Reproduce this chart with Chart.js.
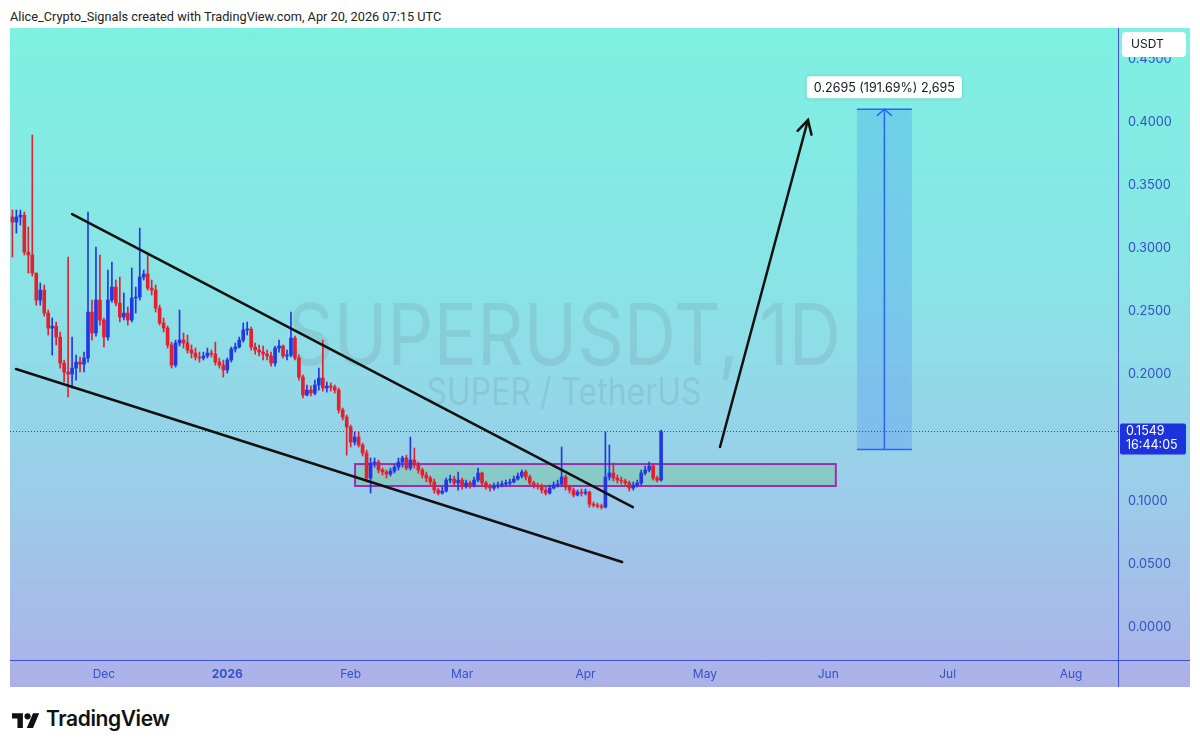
<!DOCTYPE html>
<html>
<head>
<meta charset="utf-8">
<title>SUPERUSDT 1D</title>
<script src="https://cdn.jsdelivr.net/npm/chart.js@4.4.1/dist/chart.umd.min.js"></script>
<style>
  html, body { margin: 0; padding: 0; background: #fff; }
  body { width: 1200px; height: 747px; position: relative; overflow: hidden; font-family: Inter, 'Noto Sans', sans-serif; }
  #header { position: absolute; left: 10px; top: 9px; font: 12.75px Roboto, sans-serif; color: #222; line-height: 16px; }
  #panel {
    position: absolute; left: 10px; top: 28px; width: 1180px; height: 659px;
    background: linear-gradient(180deg, rgb(126,241,226) 0%, rgb(138,227,230) 40%, rgb(155,205,233) 70%, rgb(172,177,232) 100%);
  }
  #footer { position: absolute; left: 12px; top: 706px; display: flex; align-items: center; }
  #footer span { font: 600 21px Inter, sans-serif; color: #111; margin-left: 6px; letter-spacing: -0.4px; }
</style>
</head>
<body>
<div id="header">Alice_Crypto_Signals created with TradingView.com, Apr 20, 2026 07:15 UTC</div>
<div id="panel"><canvas id="chart"></canvas></div>
<div id="footer">
  <svg width="28" height="18" viewBox="0 0 36 23">
    <path d="M14 23H7V11H0V4h14z" fill="#111"/>
    <circle cx="20" cy="8" r="4" fill="#111"/>
    <path d="M27 23h-8l8-19h8z" fill="#111"/>
  </svg>
  <span>TradingView</span>
</div>
<script>
// Days counted from Dec 1, 2025 (day 0); first candle is Nov 8
const firstDay = -23;

const opens = [
  0.3248, 0.3208, 0.3248, 0.3263, 0.2970, 0.2947, 0.2804, 0.2590, 0.2669, 0.2487,
  0.2368, 0.2384, 0.2297, 0.2091, 0.2020, 0.2004, 0.2051, 0.2099, 0.2083, 0.2131,
  0.2495, 0.2329, 0.2590, 0.2432, 0.2297, 0.2590, 0.2693, 0.2566, 0.2455, 0.2487,
  0.2432, 0.2606, 0.2614, 0.2772, 0.2796, 0.2685, 0.2669, 0.2527, 0.2408, 0.2368,
  0.2234, 0.2075, 0.2250, 0.2273, 0.2250, 0.2194, 0.2170, 0.2139, 0.2131, 0.2147,
  0.2170, 0.2162, 0.2099, 0.2075, 0.2036, 0.2115, 0.2202, 0.2218, 0.2273, 0.2353,
  0.2360, 0.2218, 0.2194, 0.2178, 0.2162, 0.2147, 0.2091, 0.2210, 0.2226, 0.2147,
  0.2154, 0.2289, 0.2131, 0.1980, 0.1838, 0.1877, 0.1853, 0.1917, 0.1972, 0.1893,
  0.1909, 0.1901, 0.1877, 0.1719, 0.1663, 0.1584, 0.1465, 0.1505, 0.1442, 0.1378,
  0.1180, 0.1299, 0.1307, 0.1244, 0.1228, 0.1212, 0.1236, 0.1267, 0.1307, 0.1339,
  0.1259, 0.1323, 0.1283, 0.1244, 0.1204, 0.1180, 0.1149, 0.1085, 0.1061, 0.1077,
  0.1164, 0.1172, 0.1141, 0.1164, 0.1117, 0.1141, 0.1125, 0.1164, 0.1220, 0.1141,
  0.1109, 0.1101, 0.1117, 0.1125, 0.1133, 0.1141, 0.1149, 0.1172, 0.1196, 0.1228,
  0.1188, 0.1141, 0.1125, 0.1117, 0.1085, 0.1061, 0.1101, 0.1125, 0.1133, 0.1188,
  0.1109, 0.1085, 0.1046, 0.1069, 0.1061, 0.1069, 0.0974, 0.0966, 0.0958, 0.0950,
  0.1188, 0.1220, 0.1180, 0.1164, 0.1156, 0.1141, 0.1101, 0.1125, 0.1141, 0.1220,
  0.1244, 0.1275, 0.1180, 0.1164
];

const closes = [
  0.3208, 0.3248, 0.3263, 0.2970, 0.2947, 0.2804, 0.2590, 0.2669, 0.2487, 0.2368,
  0.2384, 0.2297, 0.2091, 0.2020, 0.2004, 0.2051, 0.2099, 0.2083, 0.2131, 0.2495,
  0.2329, 0.2590, 0.2432, 0.2297, 0.2590, 0.2693, 0.2566, 0.2455, 0.2487, 0.2432,
  0.2606, 0.2614, 0.2772, 0.2796, 0.2685, 0.2669, 0.2527, 0.2408, 0.2368, 0.2234,
  0.2075, 0.2250, 0.2273, 0.2250, 0.2194, 0.2170, 0.2139, 0.2131, 0.2147, 0.2170,
  0.2162, 0.2099, 0.2075, 0.2036, 0.2115, 0.2202, 0.2218, 0.2273, 0.2353, 0.2360,
  0.2218, 0.2194, 0.2178, 0.2162, 0.2147, 0.2091, 0.2210, 0.2226, 0.2147, 0.2154,
  0.2289, 0.2131, 0.1980, 0.1838, 0.1877, 0.1853, 0.1917, 0.1972, 0.1893, 0.1909,
  0.1901, 0.1877, 0.1719, 0.1663, 0.1584, 0.1465, 0.1505, 0.1442, 0.1378, 0.1180,
  0.1299, 0.1307, 0.1244, 0.1228, 0.1212, 0.1236, 0.1267, 0.1307, 0.1339, 0.1259,
  0.1323, 0.1283, 0.1244, 0.1204, 0.1180, 0.1149, 0.1085, 0.1061, 0.1077, 0.1164,
  0.1172, 0.1141, 0.1164, 0.1117, 0.1141, 0.1125, 0.1164, 0.1220, 0.1141, 0.1109,
  0.1101, 0.1117, 0.1125, 0.1133, 0.1141, 0.1149, 0.1172, 0.1196, 0.1228, 0.1188,
  0.1141, 0.1125, 0.1117, 0.1085, 0.1061, 0.1101, 0.1125, 0.1133, 0.1188, 0.1109,
  0.1085, 0.1046, 0.1069, 0.1061, 0.1069, 0.0974, 0.0966, 0.0958, 0.0950, 0.1188,
  0.1220, 0.1180, 0.1164, 0.1156, 0.1141, 0.1101, 0.1125, 0.1141, 0.1220, 0.1244,
  0.1275, 0.1180, 0.1164, 0.1549
];

const highs = [
  0.3303, 0.3303, 0.3303, 0.3287, 0.3168, 0.3897, 0.2804, 0.2725, 0.2709, 0.2511,
  0.2448, 0.2416, 0.2337, 0.2115, 0.2931, 0.2297, 0.2154, 0.2139, 0.2178, 0.3287,
  0.2590, 0.3010, 0.2947, 0.2448, 0.2828, 0.2891, 0.2749, 0.2772, 0.2646, 0.2535,
  0.2844, 0.2693, 0.3160, 0.2828, 0.2947, 0.2749, 0.2709, 0.2550, 0.2448, 0.2384,
  0.2257, 0.2273, 0.2511, 0.2329, 0.2313, 0.2234, 0.2210, 0.2178, 0.2178, 0.2210,
  0.2194, 0.2257, 0.2131, 0.2115, 0.2131, 0.2218, 0.2250, 0.2297, 0.2408, 0.2416,
  0.2376, 0.2250, 0.2234, 0.2226, 0.2194, 0.2178, 0.2226, 0.2273, 0.2234, 0.2194,
  0.2495, 0.2305, 0.2154, 0.1996, 0.1917, 0.1909, 0.1956, 0.2051, 0.2273, 0.1941,
  0.1933, 0.1917, 0.1893, 0.1735, 0.1679, 0.1600, 0.1545, 0.1545, 0.1457, 0.1402,
  0.1339, 0.1339, 0.1323, 0.1259, 0.1244, 0.1259, 0.1283, 0.1339, 0.1354, 0.1362,
  0.1505, 0.1418, 0.1307, 0.1259, 0.1228, 0.1196, 0.1172, 0.1101, 0.1109, 0.1180,
  0.1204, 0.1196, 0.1228, 0.1180, 0.1164, 0.1156, 0.1188, 0.1259, 0.1228, 0.1156,
  0.1133, 0.1141, 0.1149, 0.1156, 0.1164, 0.1172, 0.1196, 0.1220, 0.1244, 0.1244,
  0.1204, 0.1156, 0.1141, 0.1133, 0.1109, 0.1125, 0.1149, 0.1164, 0.1426, 0.1204,
  0.1125, 0.1101, 0.1085, 0.1093, 0.1093, 0.1077, 0.0990, 0.0982, 0.0974, 0.1545,
  0.1442, 0.1299, 0.1204, 0.1188, 0.1172, 0.1156, 0.1149, 0.1164, 0.1244, 0.1275,
  0.1307, 0.1291, 0.1196, 0.1560
];

const lows = [
  0.2931, 0.3121, 0.3184, 0.2947, 0.2804, 0.2780, 0.2550, 0.2550, 0.2463, 0.2313,
  0.2154, 0.2234, 0.2051, 0.1941, 0.1822, 0.1893, 0.1956, 0.2020, 0.2020, 0.2099,
  0.2273, 0.2305, 0.2392, 0.2218, 0.2273, 0.2574, 0.2543, 0.2416, 0.2432, 0.2392,
  0.2416, 0.2487, 0.2590, 0.2749, 0.2669, 0.2630, 0.2495, 0.2392, 0.2337, 0.2210,
  0.2051, 0.2059, 0.2226, 0.2210, 0.2170, 0.2131, 0.2115, 0.2099, 0.2115, 0.2131,
  0.2139, 0.2075, 0.2051, 0.1980, 0.2012, 0.2099, 0.2178, 0.2210, 0.2257, 0.2313,
  0.2194, 0.2162, 0.2147, 0.2115, 0.2115, 0.2067, 0.2067, 0.2178, 0.2131, 0.2115,
  0.2139, 0.2115, 0.1956, 0.1814, 0.1830, 0.1830, 0.1838, 0.1877, 0.1869, 0.1861,
  0.1869, 0.1853, 0.1695, 0.1640, 0.1362, 0.1426, 0.1442, 0.1426, 0.1354, 0.1149,
  0.1061, 0.1267, 0.1220, 0.1204, 0.1180, 0.1196, 0.1220, 0.1244, 0.1267, 0.1244,
  0.1244, 0.1259, 0.1220, 0.1180, 0.1149, 0.1125, 0.1061, 0.1046, 0.1053, 0.1069,
  0.1141, 0.1117, 0.1085, 0.1093, 0.1101, 0.1101, 0.1109, 0.1149, 0.1125, 0.1093,
  0.1077, 0.1085, 0.1101, 0.1109, 0.1117, 0.1125, 0.1141, 0.1164, 0.1180, 0.1164,
  0.1125, 0.1101, 0.1093, 0.1061, 0.1046, 0.1053, 0.1093, 0.1109, 0.1117, 0.1085,
  0.1061, 0.1030, 0.1038, 0.1038, 0.1046, 0.0950, 0.0950, 0.0943, 0.0935, 0.0943,
  0.1164, 0.1156, 0.1141, 0.1133, 0.1117, 0.1077, 0.1085, 0.1109, 0.1125, 0.1204,
  0.1228, 0.1164, 0.1149, 0.1156
];

// Axis ticks
const monthTicks = [0, 31, 62, 90, 121, 151, 182, 212, 243];
const monthLabels = ['Dec', '2026', 'Feb', 'Mar', 'Apr', 'May', 'Jun', 'Jul', 'Aug'];
const priceTicks = [0, 0.05, 0.10, 0.15, 0.20, 0.25, 0.30, 0.35, 0.40, 0.45];

// Drawings (day, price)
const upperLine = [{ x: -8.0, y: 0.3271 }, { x: 132.9, y: 0.0950 }];
const lowerLine = [{ x: -22.1, y: 0.2044 }, { x: 130.2, y: 0.0515 }];
const arrowLine = [{ x: 154.8, y: 0.1426 }, { x: 176.9, y: 0.4016 }];
const zoneDays = [63.1, 183.9];
const zonePrices = [0.1117, 0.1291];
const measureDays = [189.2, 203.0];
const measurePrices = [0.1406, 0.4101];
const measureText = '0.2695 (191.69%) 2,695';
const lastPrice = 0.1549;
const countdown = '16:44:05';
const watermark = ['SUPERUSDT, 1D', 'SUPER / TetherUS'];

const upColor = '#2437e4';
const downColor = '#e3202e';
const axisBlue = '#3d4fd2';
const tickColor = '#3550c8';

const days = closes.map((c, i) => firstDay + i);
const candleColors = closes.map((c, i) => c >= opens[i] ? upColor : downColor);

function roundRect(ctx, x, y, w, h, r) {
  ctx.beginPath();
  ctx.moveTo(x + r, y);
  ctx.arcTo(x + w, y, x + w, y + h, r);
  ctx.arcTo(x + w, y + h, x, y + h, r);
  ctx.arcTo(x, y + h, x, y, r);
  ctx.arcTo(x, y, x + w, y, r);
  ctx.closePath();
}

function arrowHead(ctx, fromX, fromY, toX, toY, len, spread) {
  const ang = Math.atan2(toY - fromY, toX - fromX);
  ctx.beginPath();
  ctx.moveTo(toX - len * Math.cos(ang - spread), toY - len * Math.sin(ang - spread));
  ctx.lineTo(toX, toY);
  ctx.lineTo(toX - len * Math.cos(ang + spread), toY - len * Math.sin(ang + spread));
  ctx.stroke();
}

// draw a text line squeezed to a given width (the watermark font is narrower than Inter)
function squeezedText(ctx, text, cx, baseline, font, width) {
  ctx.save();
  ctx.font = font;
  const w = ctx.measureText(text).width;
  ctx.translate(cx, baseline);
  ctx.scale(width / w, 1);
  ctx.textAlign = 'center';
  ctx.textBaseline = 'alphabetic';
  ctx.fillText(text, 0, 0);
  ctx.restore();
}

const drawings = {
  id: 'drawings',
  beforeDatasetsDraw(chart) {
    const { ctx, chartArea: a, scales: { x, y } } = chart;
    ctx.save();
    ctx.beginPath();
    ctx.rect(a.left, a.top, a.right - a.left, a.bottom - a.top);
    ctx.clip();

    // watermark
    const cx = (a.left + a.right) / 2;
    ctx.fillStyle = 'rgba(95, 108, 122, 0.15)';
    squeezedText(ctx, watermark[0], cx, a.top + 337, '400 85px Inter, sans-serif', 554);
    squeezedText(ctx, watermark[1], cx, a.top + 377, '400 38px Inter, sans-serif', 275);

    // price line
    const py = y.getPixelForValue(lastPrice);
    ctx.strokeStyle = '#2a3fe0';
    ctx.lineWidth = 1;
    ctx.setLineDash([1, 2]);
    ctx.beginPath();
    ctx.moveTo(a.left, Math.round(py) + 0.5);
    ctx.lineTo(a.right, Math.round(py) + 0.5);
    ctx.stroke();
    ctx.setLineDash([]);

    // accumulation zone
    const zx1 = x.getPixelForValue(zoneDays[0]);
    const zx2 = x.getPixelForValue(zoneDays[1]);
    const zy1 = y.getPixelForValue(zonePrices[1]);
    const zy2 = y.getPixelForValue(zonePrices[0]);
    ctx.fillStyle = 'rgba(90, 190, 110, 0.28)';
    ctx.fillRect(zx1, zy1, zx2 - zx1, zy2 - zy1);
    ctx.strokeStyle = '#9b2fb0';
    ctx.lineWidth = 2;
    ctx.strokeRect(zx1, zy1, zx2 - zx1, zy2 - zy1);
    ctx.restore();
  },
  afterDatasetsDraw(chart) {
    const { ctx, scales: { x, y } } = chart;
    ctx.save();

    // black arrow head
    ctx.strokeStyle = '#111';
    ctx.lineWidth = 2.5;
    ctx.lineCap = 'round';
    arrowHead(ctx,
      x.getPixelForValue(arrowLine[0].x), y.getPixelForValue(arrowLine[0].y),
      x.getPixelForValue(arrowLine[1].x), y.getPixelForValue(arrowLine[1].y), 15, 0.5);

    // measure tool
    const mx1 = x.getPixelForValue(measureDays[0]);
    const mx2 = x.getPixelForValue(measureDays[1]);
    const myTop = y.getPixelForValue(measurePrices[1]);
    const myBot = y.getPixelForValue(measurePrices[0]);
    const mcx = (mx1 + mx2) / 2;
    ctx.fillStyle = 'rgba(41, 98, 255, 0.2)';
    ctx.fillRect(mx1, myTop, mx2 - mx1, myBot - myTop);
    ctx.strokeStyle = '#2962ff';
    ctx.lineWidth = 1.5;
    ctx.lineCap = 'butt';
    ctx.beginPath();
    ctx.moveTo(mx1, myTop); ctx.lineTo(mx2, myTop);
    ctx.moveTo(mx1, myBot); ctx.lineTo(mx2, myBot);
    ctx.moveTo(mcx, myBot); ctx.lineTo(mcx, myTop);
    ctx.stroke();
    arrowHead(ctx, mcx, myBot, mcx, myTop, 10, 0.85);

    // measure label
    ctx.font = '12.5px Inter, sans-serif';
    const tw = ctx.measureText(measureText).width;
    const bw = tw + 14, bh = 22;
    ctx.shadowColor = 'rgba(0,0,0,0.15)';
    ctx.shadowBlur = 4;
    ctx.fillStyle = '#ffffff';
    roundRect(ctx, mcx - bw / 2, myTop - 33, bw, bh, 3);
    ctx.fill();
    ctx.shadowBlur = 0;
    ctx.shadowColor = 'transparent';
    ctx.fillStyle = '#131722';
    ctx.textAlign = 'center';
    ctx.textBaseline = 'middle';
    ctx.fillText(measureText, mcx, myTop - 33 + bh / 2 + 0.5);
    ctx.restore();
  },
  afterDraw(chart) {
    const { ctx, chartArea: a, scales: { y }, width, height } = chart;
    ctx.save();
    // axis lines
    ctx.strokeStyle = axisBlue;
    ctx.lineWidth = 1;
    ctx.beginPath();
    ctx.moveTo(0, Math.round(a.bottom) + 0.5);
    ctx.lineTo(width, Math.round(a.bottom) + 0.5);
    ctx.moveTo(Math.round(a.right) + 0.5, 0);
    ctx.lineTo(Math.round(a.right) + 0.5, height);
    ctx.stroke();

    // last price label
    const py = y.getPixelForValue(lastPrice);
    ctx.fillStyle = '#1d33dc';
    roundRect(ctx, a.right + 2, py - 8, 66, 31, 2);
    ctx.fill();
    ctx.fillStyle = '#ffffff';
    ctx.font = '12.5px Inter, sans-serif';
    ctx.textAlign = 'left';
    ctx.textBaseline = 'middle';
    ctx.fillText(lastPrice.toFixed(4), a.right + 8, py);
    ctx.fillText(countdown, a.right + 8, py + 14);

    // currency box (hides the top of the 0.4500 label, as in the original)
    ctx.fillStyle = '#ffffff';
    roundRect(ctx, a.right + 4, 4, 64, 25, 4);
    ctx.fill();
    ctx.fillStyle = '#131722';
    ctx.font = '12px Inter, sans-serif';
    ctx.fillText('USDT', a.right + 13, 16.5);
    ctx.restore();
  }
};

new Chart(document.getElementById('chart'), {
  type: 'bar',
  data: {
    datasets: [
      {
        type: 'line', data: upperLine, borderColor: '#111', borderWidth: 2.5,
        pointRadius: 0, borderCapStyle: 'round', order: 0
      },
      {
        type: 'line', data: lowerLine, borderColor: '#111', borderWidth: 2.5,
        pointRadius: 0, borderCapStyle: 'round', order: 0
      },
      {
        type: 'line', data: arrowLine, borderColor: '#111', borderWidth: 2.5,
        pointRadius: 0, borderCapStyle: 'round', order: 0
      },
      {
        label: 'bodies',
        data: days.map((d, i) => ({ x: d, y: [opens[i], closes[i]] })),
        backgroundColor: candleColors,
        barThickness: 3,
        minBarLength: 1,
        grouped: false,
        order: 1
      },
      {
        label: 'wicks',
        data: days.map((d, i) => ({ x: d, y: [lows[i], highs[i]] })),
        backgroundColor: candleColors,
        barThickness: 1,
        grouped: false,
        order: 2
      }
    ]
  },
  options: {
    responsive: true,
    maintainAspectRatio: false,
    animation: false,
    layout: { padding: 0 },
    plugins: {
      legend: { display: false },
      tooltip: { enabled: false }
    },
    scales: {
      x: {
        type: 'linear',
        offset: false,
        min: -23.6,
        max: 254.8,
        grid: { display: false, drawTicks: false },
        border: { display: false },
        afterBuildTicks: s => { s.ticks = monthTicks.map(v => ({ value: v })); },
        afterFit: s => { s.height = 27; s.paddingLeft = 0; s.paddingRight = 0; },
        ticks: {
          autoSkip: false,
          maxRotation: 0,
          padding: 7,
          color: tickColor,
          font: ctx => ({
            family: 'Inter, sans-serif',
            size: 12,
            weight: ctx.tick && ctx.tick.value === 31 ? '700' : '400'
          }),
          callback: (v, i) => monthLabels[i]
        }
      },
      y: {
        type: 'linear',
        position: 'right',
        min: -0.0261,
        max: 0.4745,
        grid: { display: false, drawTicks: false },
        border: { display: false },
        afterBuildTicks: s => { s.ticks = priceTicks.map(v => ({ value: v })); },
        afterFit: s => { s.width = 72; s.paddingTop = 0; s.paddingBottom = 0; },
        ticks: {
          padding: 10,
          color: tickColor,
          font: { family: 'Inter, sans-serif', size: 12.75 },
          callback: v => v.toFixed(4)
        }
      }
    }
  },
  plugins: [drawings]
});
</script>
</body>
</html>
